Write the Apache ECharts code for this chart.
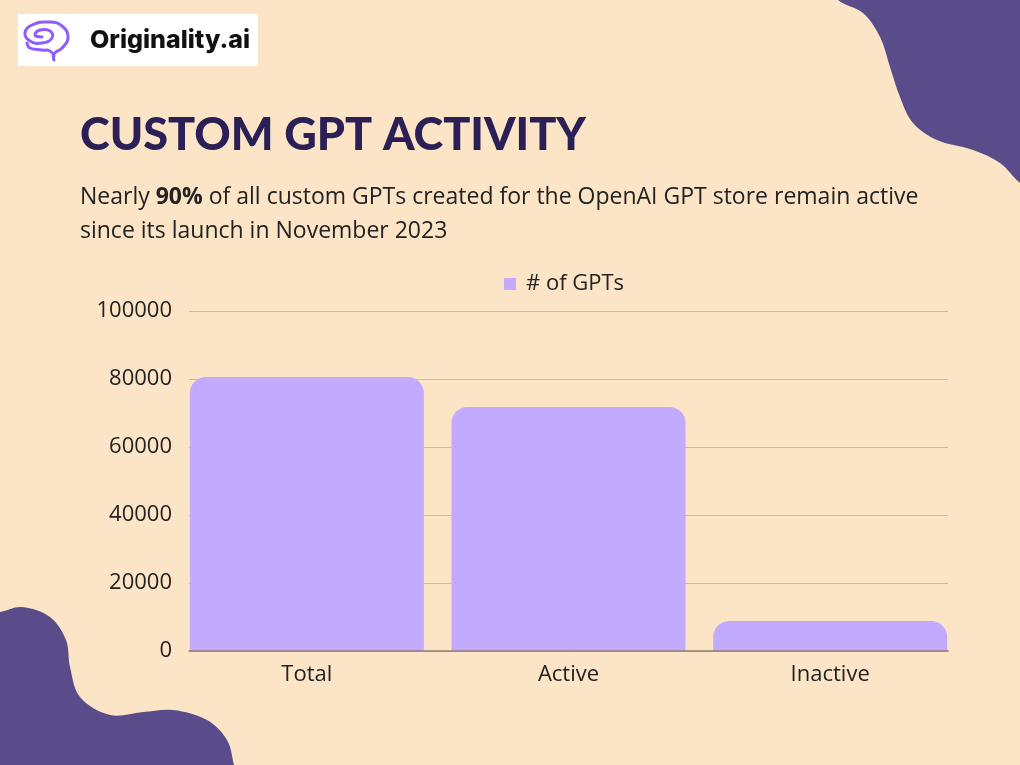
<!DOCTYPE html>
<html>
<head>
<meta charset="utf-8">
<style>
  html, body { margin: 0; padding: 0; background: #fce5c7; }
  #chart { width: 1020px; height: 765px; }
</style>
<script src="https://cdn.jsdelivr.net/npm/echarts@6/dist/echarts.min.js"></script>
</head>
<body>
<div id="chart"></div>
<script>
const categories = ['Total', 'Active', 'Inactive']
const gptCounts = [80600, 71800, 8800]
const seriesName = '# of GPTs'
const yMin = 0
const yMax = 100000
const yStep = 20000

const chart = echarts.init(document.getElementById('chart'))

const ink = '#222222'
const font = 'Open Sans'
const blob = '#5a4b8a'

const option = {
  backgroundColor: '#fce5c7',
  animation: false,
  title: [
    {
      text: 'CUSTOM GPT ACTIVITY',
      left: 75, top: 108,
      textStyle: { fontFamily: 'Lato', fontWeight: 900, fontSize: 45, color: '#2b2056' }
    },
    {
      text: 'Nearly {b|90%} of all custom GPTs created for the OpenAI GPT store remain active\nsince its launch in November 2023',
      left: 75, top: 175,
      textStyle: {
        fontFamily: font, fontSize: 23, fontWeight: 'normal', color: ink, lineHeight: 34,
        rich: { b: { fontFamily: font, fontSize: 23, fontWeight: 'bold', color: ink, lineHeight: 34 } }
      }
    }
  ],
  legend: {
    data: [seriesName],
    left: 499, top: 268,
    icon: 'rect', itemWidth: 12, itemHeight: 12, itemGap: 10,
    textStyle: { fontFamily: font, fontSize: 22, color: ink, padding: [0, 0, 0, 5] }
  },
  grid: [
    // bars + category labels
    { left: 176, right: 59, top: 311, bottom: 114 },
    // gridlines, value labels, baseline
    { left: 189, right: 72, top: 311, bottom: 114 }
  ],
  xAxis: [
    {
      type: 'category', gridIndex: 0, data: categories,
      axisLine: { show: false }, axisTick: { show: false },
      axisLabel: { fontFamily: font, fontSize: 22, color: ink, margin: 13 }
    },
    {
      type: 'value', gridIndex: 1, min: 0, max: 1, z: 5,
      axisLine: { show: true, lineStyle: { color: '#8c8072', width: 1.5 } },
      axisTick: { show: false }, axisLabel: { show: false }, splitLine: { show: false }
    }
  ],
  yAxis: [
    { type: 'value', gridIndex: 0, min: yMin, max: yMax, show: false },
    {
      type: 'value', gridIndex: 1, min: yMin, max: yMax, interval: yStep,
      axisLine: { show: false }, axisTick: { show: false },
      axisLabel: { fontFamily: font, fontSize: 22, color: ink, margin: 17, formatter: v => String(v) },
      splitLine: { lineStyle: { color: '#cdbb9f', width: 1 } }
    }
  ],
  series: [{
    name: seriesName,
    type: 'bar',
    xAxisIndex: 0, yAxisIndex: 0,
    barWidth: 234,
    data: gptCounts,
    itemStyle: { color: '#c2aaff', borderRadius: [16, 16, 0, 0] }
  }],
  graphic: [
    // top-right blob
    {
      type: 'polygon', z: -10, silent: true,
      shape: {
        smooth: 0.35,
        points: [[838, 0], [863, 13], [880, 37], [890, 67], [900, 97], [913, 123], [937, 140],
          [973, 150], [1000, 163], [1020, 183], [1045, 200], [1045, -25], [820, -25]]
      },
      style: { fill: blob }
    },
    // bottom-left blob
    {
      type: 'polygon', z: -10, silent: true,
      shape: {
        smooth: 0.35,
        points: [[-25, 615], [0, 612], [22, 607], [50, 617], [66, 640], [70, 667], [80, 697],
          [110, 715], [143, 712], [173, 710], [207, 720], [227, 740], [234, 765], [240, 790], [-25, 790]]
      },
      style: { fill: blob }
    },
    // logo box
    {
      type: 'group', x: 18, y: 14, silent: true,
      children: [
        { type: 'rect', shape: { x: 0, y: 0, width: 240, height: 52 }, style: { fill: '#ffffff' } },
        {
          type: 'polyline',
          shape: {
            smooth: 0.5,
            points: [[36, 46], [36, 40], [44, 34], [50, 24], [44, 12], [30, 8], [14, 11], [7, 19],
              [12, 27], [24, 29], [34, 24], [32, 17], [22, 16], [17, 21], [24, 23]]
          },
          style: { fill: 'none', stroke: '#8f5cff', lineWidth: 3, lineCap: 'round', lineJoin: 'round' }
        },
        {
          type: 'polyline',
          shape: { smooth: 0.5, points: [[9, 29], [12, 34], [24, 36], [32, 37], [36, 42]] },
          style: { fill: 'none', stroke: '#8f5cff', lineWidth: 3, lineCap: 'round', lineJoin: 'round' }
        },
        {
          type: 'text', x: 72, y: 26,
          style: { text: 'Originality.ai', fontFamily: 'Inter', fontWeight: 800, fontSize: 25, fill: '#111111', verticalAlign: 'middle' }
        }
      ]
    }
  ]
}

chart.setOption(option)
</script>
</body>
</html>
